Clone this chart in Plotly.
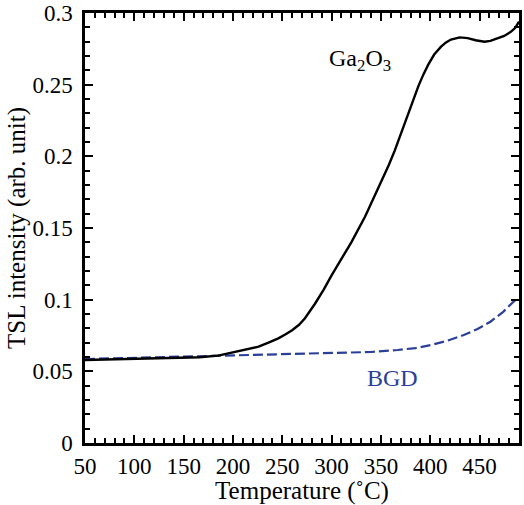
import plotly.graph_objects as go

# Ga2O3 TSL glow curve
ga_temp = [50, 80, 110, 140, 166, 185, 199, 213, 226, 236, 246, 253, 260, 267, 273,
           283, 292, 300, 309, 320, 334, 342, 351, 358, 364, 374, 381, 388, 393, 398,
           404, 411, 416, 421, 430, 438, 446, 455, 461, 468, 475, 482, 486, 490]
ga_tsl = [0.0579, 0.0584, 0.0587, 0.0591, 0.0598, 0.0610, 0.0630, 0.0650, 0.0672, 0.0700,
          0.0730, 0.0757, 0.0787, 0.0825, 0.0870, 0.0970, 0.1070, 0.1170, 0.1270, 0.1400,
          0.1580, 0.1700, 0.1830, 0.1940, 0.2040, 0.2230, 0.2360, 0.2490, 0.2570, 0.2640,
          0.2710, 0.2765, 0.2795, 0.2815, 0.2830, 0.2825, 0.2810, 0.2800, 0.2805, 0.2820,
          0.2840, 0.2870, 0.2895, 0.2940]

# BGD background curve
bgd_temp = [50, 100, 150, 199, 250, 300, 340, 367, 385, 401, 418, 434, 448, 461, 474, 485, 490]
bgd_tsl = [0.0586, 0.0594, 0.0603, 0.0614, 0.0620, 0.0626, 0.0635, 0.0649, 0.0662, 0.0684,
           0.0715, 0.0753, 0.0795, 0.0846, 0.0915, 0.0990, 0.1010]

# tick labels
x_ticks = [50, 100, 150, 200, 250, 300, 350, 400, 450]
y_ticks = [0, 0.05, 0.1, 0.15, 0.2, 0.25, 0.3]
y_ticklabels = ["0", "0.05", "0.1", "0.15", "0.2", "0.25", "0.3"]

serif = "Liberation Serif, Times New Roman, serif"

fig = go.Figure()
fig.add_trace(go.Scatter(x=bgd_temp, y=bgd_tsl, mode="lines", name="BGD",
                         line=dict(color="#2b3f99", width=2.2, dash="10px,4px")))
fig.add_trace(go.Scatter(x=ga_temp, y=ga_tsl, mode="lines", name="Ga2O3",
                         line=dict(color="black", width=2.4)))

axis_common = dict(
    showgrid=False, zeroline=False, showline=True, linecolor="black", linewidth=2.5,
    mirror="allticks", ticks="inside", ticklen=8, tickwidth=2, tickcolor="black",
    tickfont=dict(family=serif, size=23, color="black"), automargin=False,
)

fig.update_layout(
    width=524, height=505,
    margin=dict(l=85, r=5, t=13, b=62),
    paper_bgcolor="white", plot_bgcolor="white",
    showlegend=False,
    xaxis=dict(range=[50, 490], tickvals=x_ticks, ticklabelstandoff=1,
               minor=dict(dtick=10, tick0=50, ticks="inside", ticklen=5, tickcolor="black", tickwidth=1.5),
               title=dict(text="Temperature (˚C)", font=dict(family=serif, size=25, color="black"),
                          standoff=0),
               **axis_common),
    yaxis=dict(range=[0, 0.3], tickvals=y_ticks, ticktext=y_ticklabels, ticklabelstandoff=5,
               minor=dict(dtick=0.01, ticks="inside", ticklen=5, tickcolor="black", tickwidth=1.5),
               title=dict(text="TSL intensity (arb. unit)", font=dict(family=serif, size=25, color="black"),
                          standoff=0),
               **axis_common),
    annotations=[
        dict(x=329, y=0.267, xref="x", yref="y", showarrow=False,
             text="Ga<sub>2</sub>O<sub>3</sub>", font=dict(family=serif, size=24, color="black")),
        dict(x=362, y=0.0455, xref="x", yref="y", showarrow=False,
             text="BGD", font=dict(family=serif, size=24, color="#2b3f99")),
    ],
)

fig.write_html("out.html", config={"displayModeBar": False},
               post_script="document.body.style.margin='0px';")
